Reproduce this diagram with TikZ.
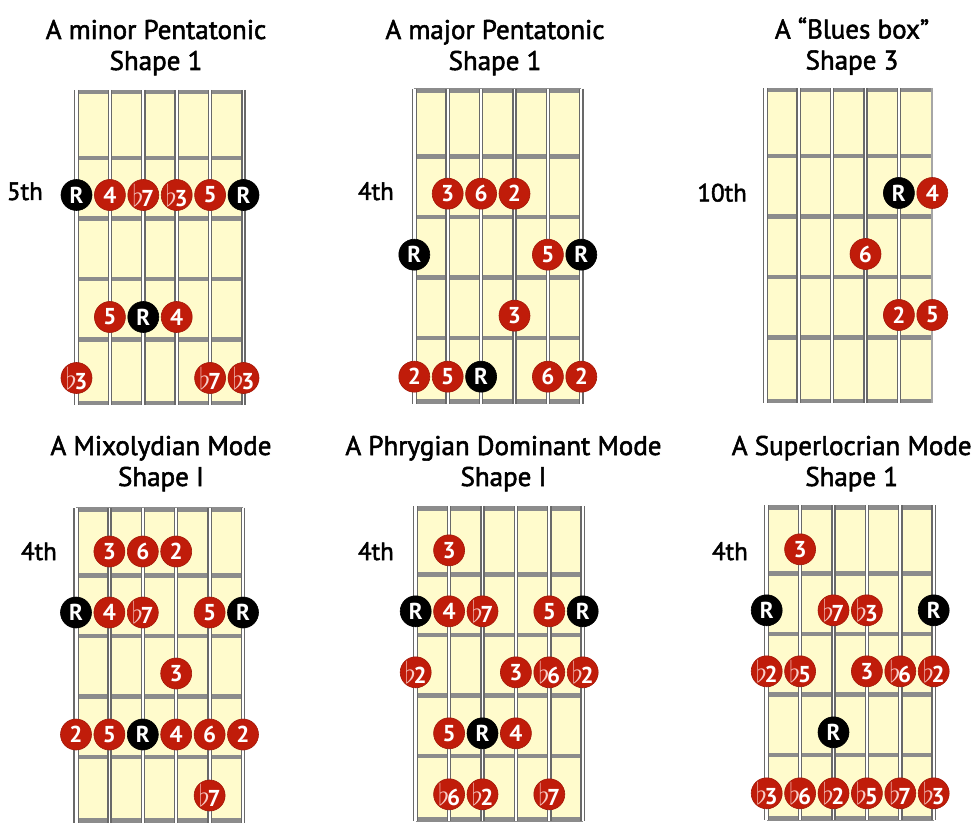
\documentclass[tikz,border=0pt]{standalone}
\usepackage{fontspec}
\usepackage{graphicx}
\setmainfont{PT Sans}
\newfontfamily\headfont{PT Sans}[FakeBold=2]
\usetikzlibrary{positioning}

\definecolor{boardyellow}{RGB}{255,251,204}
\definecolor{fretgray}{RGB}{140,140,140}
\definecolor{stringgray}{RGB}{105,105,105}
\definecolor{notered}{RGB}{192,28,10}
\definecolor{flatpink}{RGB}{248,205,200}

\newcommand{\fl}[1]{\textcolor{flatpink}{\scalebox{1.2}{$\flat$}}\kern-2.5pt#1}

\begin{document}
\begin{tikzpicture}[x=1pt, y=-1pt,
    every node/.style={inner sep=0pt},
    title/.style={font=\fontsize{27}{27}\headfont, anchor=base},
    fretnum/.style={font=\fontsize{25}{25}\headfont, anchor=base east},
    note/.style={circle, fill=notered, draw=notered!85!black, line width=0.6pt,
        minimum size=31pt, text=white, font=\fontsize{23}{23}\selectfont\bfseries},
    root/.style={note, fill=black, draw=black},
    fretbar/.style={line width=4.5pt, draw=fretgray},
    stringline/.style={line width=4.5pt, draw=stringgray},
    stringcore/.style={line width=1.8pt, draw=white},
    edgewire/.style={stringline},
    edgecore/.style={stringcore},
    fretboard/.pic={
        \fill[boardyellow] (0,0) rectangle (167,311);
        \foreach \f in {0,66,126.5,187,247.5,311}
            \draw[fretbar] (0,\f) -- (167,\f);
        \draw[stringline, line width=5.5pt] (0,-2) -- (0,313);
        \draw[stringcore, line width=3pt] (0,-2) -- (0,313);
        \foreach \s in {1,...,4} {
            \draw[stringline] ({\s*33.4},-2) -- ({\s*33.4},313);
            \draw[stringcore] ({\s*33.4},-2) -- ({\s*33.4},313);
        }
        \draw[edgewire] (167,-2) -- (167,313);
        \draw[edgecore] (167,-2) -- (167,313);
    }
]

\useasboundingbox (0,0) rectangle (972,826);

% A minor Pentatonic
\node[title] (tminor) at (156,39) {A minor Pentatonic};
\node[title, below=31pt of tminor.base, anchor=base] (sminor) {Shape 1};
\pic (bminor) at (76.5,92) {fretboard};
\node[fretnum] (fminor) at (43,200) {5th};
\begin{scope}[shift={(76.5,92)}]
    \foreach \s/\r/\t/\k [count=\i] in {1/2/R/root, 2/2/4/note, 3/2/\fl7/note,
        4/2/\fl3/note, 5/2/5/note, 6/2/R/root, 2/4/5/note, 3/4/R/root,
        4/4/4/note, 1/5/\fl3/note, 5/5/\fl7/note, 6/5/\fl3/note}
        \node[\k] (minor\i) at ({(\s-1)*33.4},{42+(\r-1)*61}) {\makebox[0pt]{\t}};
\end{scope}

% A major Pentatonic
\node[title] (tmajor) at (495,39) {A major Pentatonic};
\node[title, below=31pt of tmajor.base, anchor=base] (smajor) {Shape 1};
\pic (bmajor) at (414.3,90.7) {fretboard};
\node[fretnum] (fmajor) at (394,200) {4th};
\begin{scope}[shift={(414.3,90.7)}]
    \foreach \s/\r/\t/\k [count=\i] in {2/2/3/note, 3/2/6/note, 4/2/2/note,
        1/3/R/root, 5/3/5/note, 6/3/R/root, 4/4/3/note, 1/5/2/note,
        2/5/5/note, 3/5/R/root, 5/5/6/note, 6/5/2/note}
        \node[\k] (major\i) at ({(\s-1)*33.4},{42+(\r-1)*61}) {\makebox[0pt]{\t}};
\end{scope}

% A "Blues box"
\node[title] (tblues) at (852,38.5) {A “Blues box”};
\node[title, below=31pt of tblues.base, anchor=base] (sblues) {Shape 3};
\pic[edgewire/.style={line width=2pt, draw=gray!70}, edgecore/.style={draw=none}]
    (bblues) at (765.3,90) {fretboard};
\node[fretnum] (fblues) at (747,201.5) {10th};
\begin{scope}[shift={(765.3,90)}]
    \foreach \s/\r/\t/\k [count=\i] in {5/2/R/root, 6/2/4/note, 4/3/6/note,
        5/4/2/note, 6/4/5/note}
        \node[\k] (blues\i) at ({(\s-1)*33.4},{42+(\r-1)*61}) {\makebox[0pt]{\t}};
\end{scope}

% A Mixolydian Mode
\node[title] (tmixo) at (161,455) {A Mixolydian Mode};
\node[title, below=31pt of tmixo.base, anchor=base] (smixo) {Shape I};
\pic (bmixo) at (76,509.5) {fretboard};
\node[fretnum] (fmixo) at (57,560) {4th};
\begin{scope}[shift={(76,509.5)}]
    \foreach \s/\r/\t/\k [count=\i] in {2/1/3/note, 3/1/6/note, 4/1/2/note,
        1/2/R/root, 2/2/4/note, 3/2/\fl7/note, 5/2/5/note, 6/2/R/root,
        4/3/3/note, 1/4/2/note, 2/4/5/note, 3/4/R/root, 4/4/4/note,
        5/4/6/note, 6/4/2/note, 5/5/\fl7/note}
        \node[\k] (mixo\i) at ({(\s-1)*33.4},{42+(\r-1)*61}) {\makebox[0pt]{\t}};
\end{scope}

% A Phrygian Dominant Mode
\node[title] (tphryg) at (503.5,455) {A Phrygian Dominant Mode};
\node[title, below=31pt of tphryg.base, anchor=base] (sphryg) {Shape I};
\pic (bphryg) at (415.7,508.3) {fretboard};
\node[fretnum] (fphryg) at (394,560) {4th};
\begin{scope}[shift={(415.7,508.3)}]
    \foreach \s/\r/\t/\k [count=\i] in {2/1/3/note, 1/2/R/root, 2/2/4/note,
        3/2/\fl7/note, 5/2/5/note, 6/2/R/root, 1/3/\fl2/note, 4/3/3/note,
        5/3/\fl6/note, 6/3/\fl2/note, 2/4/5/note, 3/4/R/root, 4/4/4/note,
        2/5/\fl6/note, 3/5/\fl2/note, 5/5/\fl7/note}
        \node[\k] (phryg\i) at ({(\s-1)*33.4},{42+(\r-1)*61}) {\makebox[0pt]{\t}};
\end{scope}

% A Superlocrian Mode
\node[title] (tsuper) at (851.7,455) {A Superlocrian Mode};
\node[title, below=31pt of tsuper.base, anchor=base] (ssuper) {Shape 1};
\pic (bsuper) at (766.7,507.3) {fretboard};
\node[fretnum] (fsuper) at (748,560) {4th};
\begin{scope}[shift={(766.7,507.3)}]
    \foreach \s/\r/\t/\k [count=\i] in {2/1/3/note, 1/2/R/root, 3/2/\fl7/note,
        4/2/\fl3/note, 6/2/R/root, 1/3/\fl2/note, 2/3/\fl5/note, 4/3/3/note,
        5/3/\fl6/note, 6/3/\fl2/note, 3/4/R/root, 1/5/\fl3/note,
        2/5/\fl6/note, 3/5/\fl2/note, 4/5/\fl5/note, 5/5/\fl7/note,
        6/5/\fl3/note}
        \node[\k] (super\i) at ({(\s-1)*33.4},{42+(\r-1)*61}) {\makebox[0pt]{\t}};
\end{scope}

\end{tikzpicture}
\end{document}
